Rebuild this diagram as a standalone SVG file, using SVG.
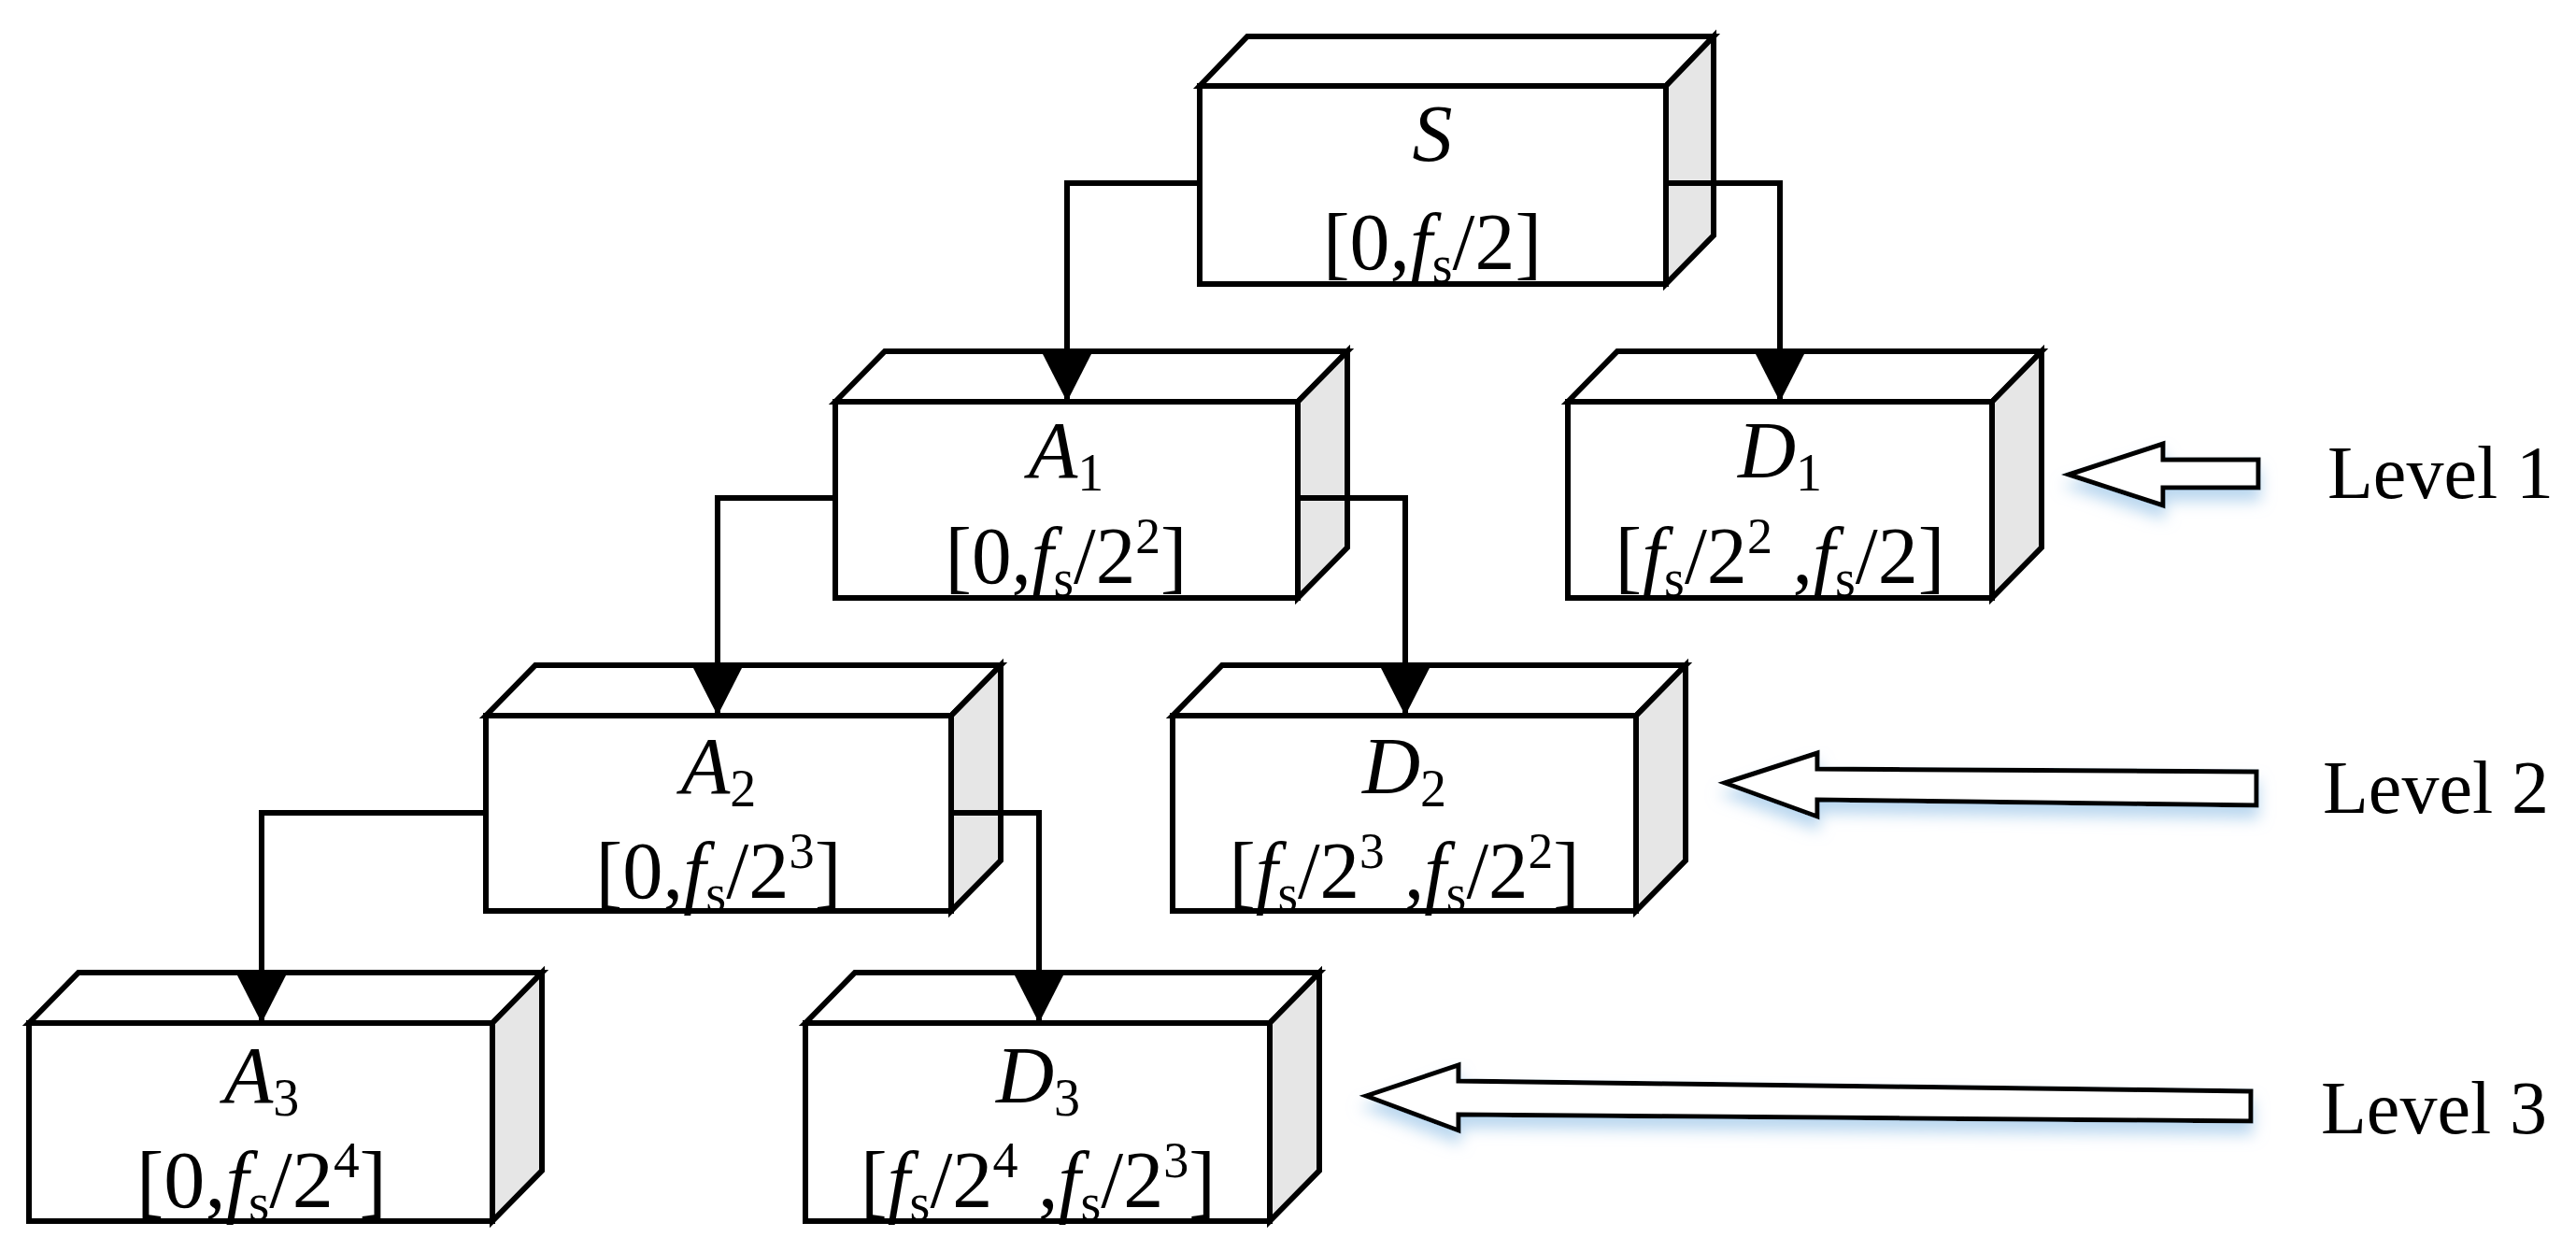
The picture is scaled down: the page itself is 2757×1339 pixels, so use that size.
<svg xmlns="http://www.w3.org/2000/svg" width="2757" height="1339" viewBox="0 0 2757 1339">
<style>
.f{fill:#fff;stroke:#000;stroke-width:6;stroke-linejoin:miter}
.sd{fill:#e6e6e6;stroke:#000;stroke-width:6}
.c{fill:none;stroke:#000;stroke-width:6}
.t{font-family:"Liberation Serif",serif;font-size:86px;fill:#000;text-anchor:middle}
.i{font-style:italic}
.lv{fill:#fff;stroke:#000;stroke-width:5;filter:url(#sh)}
.lt{font-family:"Liberation Serif",serif;font-size:80px;fill:#000}
</style>
<defs>
<marker id="ah" markerUnits="userSpaceOnUse" markerWidth="56" markerHeight="56" refX="53" refY="27" orient="auto" viewBox="0 0 56 56">
<path d="M0,0 L53,27 L0,54 Z" fill="#000"/>
</marker>
<filter id="sh" x="-10%" y="-50%" width="120%" height="250%">
<feDropShadow dx="0" dy="12" stdDeviation="8" flood-color="#9cc6e8" flood-opacity="0.7"/>
</filter>
</defs>
<rect width="2757" height="1339" fill="#fff"/>

<g id="S">
<polygon class="f" points="1284,92 1335,39 1834,39 1783,92"/>
<polygon class="sd" points="1783,92 1834,39 1834,252 1783,304"/>
<rect class="f" x="1284" y="92" width="499" height="212"/>
<text class="t" x="1533" y="172"><tspan class="i">S</tspan></text>
<text class="t" x="1533" y="288" textLength="234" lengthAdjust="spacingAndGlyphs">[0,<tspan class="i">f</tspan><tspan dy="14" font-size="56">s</tspan><tspan dy="-14">/2]</tspan></text>
</g>

<g id="A1">
<polygon class="f" points="894,430 947,376 1442,376 1389,430"/>
<polygon class="sd" points="1389,430 1442,376 1442,586 1389,640"/>
<rect class="f" x="894" y="430" width="495" height="210"/>
<text class="t" x="1141" y="511"><tspan class="i">A</tspan><tspan dy="14" font-size="56">1</tspan></text>
<text class="t" x="1141" y="624" textLength="259" lengthAdjust="spacingAndGlyphs">[0,<tspan class="i">f</tspan><tspan dy="14" font-size="56">s</tspan><tspan dy="-14">/2</tspan><tspan dy="-32" font-size="54">2</tspan><tspan dy="32">]</tspan></text>
</g>

<g id="D1">
<polygon class="f" points="1678,430 1731,376 2185,376 2132,430"/>
<polygon class="sd" points="2132,430 2185,376 2185,586 2132,640"/>
<rect class="f" x="1678" y="430" width="454" height="210"/>
<text class="t" x="1905" y="511"><tspan class="i">D</tspan><tspan dy="14" font-size="56">1</tspan></text>
<text class="t" x="1905" y="624" textLength="353" lengthAdjust="spacingAndGlyphs">[<tspan class="i">f</tspan><tspan dy="14" font-size="56">s</tspan><tspan dy="-14">/2</tspan><tspan dy="-32" font-size="54">2</tspan><tspan dy="32"> ,</tspan><tspan class="i">f</tspan><tspan dy="14" font-size="56">s</tspan><tspan dy="-14">/2]</tspan></text>
</g>

<g id="A2">
<polygon class="f" points="520,766 573,712 1071,712 1018,766"/>
<polygon class="sd" points="1018,766 1071,712 1071,921 1018,975"/>
<rect class="f" x="520" y="766" width="498" height="209"/>
<text class="t" x="769" y="849"><tspan class="i">A</tspan><tspan dy="14" font-size="56">2</tspan></text>
<text class="t" x="769" y="961" textLength="263" lengthAdjust="spacingAndGlyphs">[0,<tspan class="i">f</tspan><tspan dy="14" font-size="56">s</tspan><tspan dy="-14">/2</tspan><tspan dy="-32" font-size="54">3</tspan><tspan dy="32">]</tspan></text>
</g>

<g id="D2">
<polygon class="f" points="1255,766 1308,712 1804,712 1751,766"/>
<polygon class="sd" points="1751,766 1804,712 1804,921 1751,975"/>
<rect class="f" x="1255" y="766" width="496" height="209"/>
<text class="t" x="1503" y="849"><tspan class="i">D</tspan><tspan dy="14" font-size="56">2</tspan></text>
<text class="t" x="1503" y="961" textLength="375" lengthAdjust="spacingAndGlyphs">[<tspan class="i">f</tspan><tspan dy="14" font-size="56">s</tspan><tspan dy="-14">/2</tspan><tspan dy="-32" font-size="54">3</tspan><tspan dy="32"> ,</tspan><tspan class="i">f</tspan><tspan dy="14" font-size="56">s</tspan><tspan dy="-14">/2</tspan><tspan dy="-32" font-size="54">2</tspan><tspan dy="32">]</tspan></text>
</g>

<g id="A3">
<polygon class="f" points="31,1095 84,1041 580,1041 527,1095"/>
<polygon class="sd" points="527,1095 580,1041 580,1253 527,1307"/>
<rect class="f" x="31" y="1095" width="496" height="212"/>
<text class="t" x="280" y="1180"><tspan class="i">A</tspan><tspan dy="14" font-size="56">3</tspan></text>
<text class="t" x="280" y="1292" textLength="268" lengthAdjust="spacingAndGlyphs">[0,<tspan class="i">f</tspan><tspan dy="14" font-size="56">s</tspan><tspan dy="-14">/2</tspan><tspan dy="-32" font-size="54">4</tspan><tspan dy="32">]</tspan></text>
</g>

<g id="D3">
<polygon class="f" points="862,1095 915,1041 1412,1041 1359,1095"/>
<polygon class="sd" points="1359,1095 1412,1041 1412,1253 1359,1307"/>
<rect class="f" x="862" y="1095" width="497" height="212"/>
<text class="t" x="1111" y="1180"><tspan class="i">D</tspan><tspan dy="14" font-size="56">3</tspan></text>
<text class="t" x="1111" y="1292" textLength="380" lengthAdjust="spacingAndGlyphs">[<tspan class="i">f</tspan><tspan dy="14" font-size="56">s</tspan><tspan dy="-14">/2</tspan><tspan dy="-32" font-size="54">4</tspan><tspan dy="32"> ,</tspan><tspan class="i">f</tspan><tspan dy="14" font-size="56">s</tspan><tspan dy="-14">/2</tspan><tspan dy="-32" font-size="54">3</tspan><tspan dy="32">]</tspan></text>
</g>

<g id="connectors">
<polyline class="c" points="1284,196 1142,196 1142,430" marker-end="url(#ah)"/>
<polyline class="c" points="1783,196 1905,196 1905,430" marker-end="url(#ah)"/>
<polyline class="c" points="894,533 768,533 768,766" marker-end="url(#ah)"/>
<polyline class="c" points="1389,533 1504,533 1504,766" marker-end="url(#ah)"/>
<polyline class="c" points="520,870 280,870 280,1095" marker-end="url(#ah)"/>
<polyline class="c" points="1018,870 1112,870 1112,1095" marker-end="url(#ah)"/>
</g>

<g id="level1">
<polygon class="lv" points="2214,508 2315,475 2315,492 2417,492 2417,522 2315,522 2315,541"/>
<text class="lt" x="2491" y="533">Level 1</text>
</g>
<g id="level2">
<polygon class="lv" points="1846,838 1945,806 1945,823 2415,826 2415,862 1945,856 1945,874"/>
<text class="lt" x="2486" y="870">Level 2</text>
</g>
<g id="level3">
<polygon class="lv" points="1462,1173 1561,1140 1561,1157 2409,1168 2409,1200 1561,1193 1561,1210"/>
<text class="lt" x="2484" y="1213">Level 3</text>
</g>
</svg>
